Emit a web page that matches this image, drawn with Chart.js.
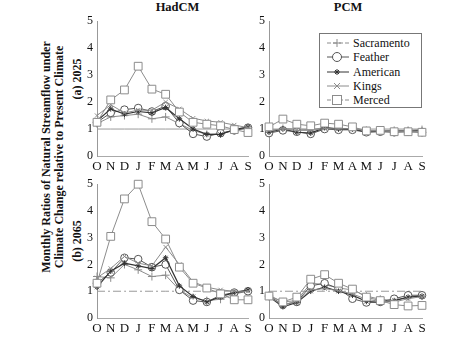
<!DOCTYPE html>
<html>
<head>
<meta charset="utf-8">
<script src="https://cdn.jsdelivr.net/npm/chart.js@4.4.1/dist/chart.umd.min.js"></script>
<style>
  html, body { margin:0; padding:0; background:#fff; }
  body { width:474px; height:351px; position:relative; overflow:hidden; font-family:"Liberation Serif", "Times New Roman", serif; color:#111; }
  canvas { position:absolute; }
  .t { position:absolute; font-weight:bold; white-space:nowrap; line-height:1; }
  .rot { transform-origin:center center; transform:translate(-50%,-50%) rotate(-90deg); }
  #legend { position:absolute; left:319px; top:33px; width:103px; height:75px; border:1px solid #777; box-sizing:border-box; background:#fff; }
  .li { position:absolute; left:6px; height:14px; font-size:12px; line-height:14px; }
  .li svg { position:absolute; left:0; top:0; }
  .li span { position:absolute; left:27px; top:0; }
</style>
</head>
<body>
<div class="t" style="left:177.5px; top:7px; font-size:12.5px; transform:translate(-50%,-50%);">HadCM</div>
<div class="t" style="left:348px; top:7px; font-size:12.5px; transform:translate(-50%,-50%);">PCM</div>
<div class="t rot" style="left:46px; top:157px; font-size:12px;">Monthly Ratios of Natural Streamflow under</div>
<div class="t rot" style="left:59px; top:157px; font-size:12px;">Climate Change relative to Present Climate</div>
<div class="t rot" style="left:77px; top:79px; font-size:12px;">(a) 2025</div>
<div class="t rot" style="left:77px; top:241px; font-size:12px;">(b) 2065</div>

<canvas id="c1"></canvas>
<canvas id="c2"></canvas>
<canvas id="c3"></canvas>
<canvas id="c4"></canvas>

<div id="legend"></div>

<script>
// ---- data ----
const months = ['O','N','D','J','F','M','A','M','J','J','A','S'];
const yTicks = [0, 1, 2, 3, 4, 5];
const seriesNames = ['Sacramento', 'Feather', 'American', 'Kings', 'Merced'];
const referenceLevel = [1,1,1,1,1,1,1,1,1,1,1,1];

const hadcm2025_sacramento = [1.2, 1.45, 1.5, 1.55, 1.38, 1.45, 1.2, 0.95, 0.8, 0.82, 0.95, 1.05];
const hadcm2025_feather    = [1.25, 1.6, 1.72, 1.78, 1.65, 1.85, 1.22, 0.82, 0.72, 0.85, 0.95, 1.05];
const hadcm2025_american   = [1.3, 1.75, 1.55, 1.65, 1.6, 1.8, 1.38, 1.0, 0.8, 0.8, 0.98, 1.08];
const hadcm2025_kings      = [1.5, 1.9, 1.6, 1.7, 1.7, 2.0, 1.75, 1.4, 1.3, 1.25, 1.15, 1.05];
const hadcm2025_merced     = [1.25, 2.08, 2.45, 3.33, 2.48, 2.29, 1.63, 1.25, 1.18, 1.12, 0.98, 0.87];

const pcm2025_sacramento = [0.92, 1.02, 1.0, 0.98, 1.05, 1.02, 1.02, 0.95, 0.95, 0.95, 0.95, 0.98];
const pcm2025_feather    = [0.85, 0.95, 0.9, 0.82, 1.0, 0.97, 0.97, 0.88, 0.9, 0.88, 0.9, 0.88];
const pcm2025_american   = [0.88, 1.0, 0.88, 0.85, 1.05, 1.0, 1.0, 0.9, 0.92, 0.92, 0.92, 0.95];
const pcm2025_kings      = [0.95, 1.0, 0.95, 0.95, 1.02, 1.0, 1.02, 0.93, 0.93, 0.92, 0.93, 0.92];
const pcm2025_merced     = [1.08, 1.37, 1.18, 1.12, 1.22, 1.18, 1.08, 0.93, 0.95, 0.9, 0.9, 0.88];

const hadcm2065_sacramento = [1.55, 1.5, 2.0, 1.8, 1.55, 1.6, 1.05, 0.75, 0.65, 0.7, 0.9, 1.0];
const hadcm2065_feather    = [1.3, 1.7, 2.25, 2.2, 1.9, 2.0, 1.05, 0.65, 0.6, 0.85, 0.95, 1.0];
const hadcm2065_american   = [1.15, 1.75, 2.05, 1.95, 1.85, 2.25, 1.2, 0.8, 0.6, 0.8, 0.95, 1.05];
const hadcm2065_kings      = [1.5, 1.85, 2.3, 2.05, 1.95, 2.65, 2.0, 1.35, 1.15, 1.05, 1.0, 1.0];
const hadcm2065_merced     = [1.3, 3.05, 4.45, 5.0, 3.6, 2.95, 1.9, 1.3, 1.12, 0.9, 0.68, 0.68];

const pcm2065_sacramento = [0.85, 0.6, 0.65, 1.3, 1.25, 1.12, 1.05, 0.82, 0.7, 0.65, 0.78, 0.82];
const pcm2065_feather    = [0.82, 0.5, 0.6, 1.2, 1.3, 1.1, 0.72, 0.58, 0.6, 0.72, 0.85, 0.85];
const pcm2065_american   = [0.8, 0.42, 0.58, 1.0, 1.15, 1.0, 0.85, 0.62, 0.58, 0.65, 0.78, 0.82];
const pcm2065_kings      = [0.78, 0.5, 0.62, 1.05, 1.1, 1.02, 0.9, 0.7, 0.62, 0.6, 0.72, 0.8];
const pcm2065_merced     = [0.82, 0.6, 0.78, 1.45, 1.62, 1.3, 1.08, 0.78, 0.65, 0.5, 0.45, 0.47];

// ---- styles ----
const styles = {
  Sacramento: { color:'#8c8c8c', pointStyle:'cross',    radius:4,   fill:'#8c8c8c', width:1 },
  Feather:    { color:'#555555', pointStyle:'circle',   radius:3.8, fill:'#ffffff', width:1 },
  American:   { color:'#333333', pointStyle:'star',     radius:2.8, fill:'#333333', width:1.2 },
  Kings:      { color:'#8c8c8c', pointStyle:'crossRot', radius:3,   fill:'#8c8c8c', width:1 },
  Merced:     { color:'#8c8c8c', pointStyle:'rect',     radius:5.5, fill:'#ffffff', width:1 }
};

const FONT = 'Liberation Serif';
Chart.defaults.font.family = FONT;
const YW = 27, XH = 20, PT = 11, PR = 8;

function makePanel(id, area, seriesArrays, refDash, yDash) {
  const cv = document.getElementById(id);
  const w = (area.R - area.L) + YW + PR;
  const h = (area.B - area.T) + PT + XH;
  cv.width = Math.round(w); cv.height = Math.round(h);
  cv.style.left = (area.L - YW) + 'px';
  cv.style.top = (area.T - PT) + 'px';
  cv.style.width = Math.round(w) + 'px'; cv.style.height = Math.round(h) + 'px';

  const datasets = [{
    label: 'ref', data: referenceLevel, borderColor:'#9a9a9a', borderWidth:1,
    borderDash: refDash, pointRadius:0, order: 10
  }];
  seriesNames.forEach((n, i) => {
    const s = styles[n];
    datasets.push({
      label: n, data: seriesArrays[i], borderColor: s.color, borderWidth: s.width,
      pointStyle: s.pointStyle, pointRadius: s.radius, pointBorderColor: s.color,
      pointBackgroundColor: s.fill, pointBorderWidth: 1, tension: 0, order: 5 - i, clip: false
    });
  });

  new Chart(cv, {
    type: 'line',
    data: { labels: months, datasets },
    options: {
      responsive: false, animation: false, devicePixelRatio: 1,
      layout: { padding: { top: PT, right: PR, left: 0, bottom: 0 } },
      plugins: { legend: { display:false }, tooltip: { enabled:false } },
      scales: {
        x: {
          type: 'category', offset: false,
          grid: { display: false, drawTicks: false },
          border: { display: true, color:'#aaaaaa', dash:[2,2], width:1 },
          ticks: { color:'#111', font: { family: FONT, size: 13 }, padding: 3, maxRotation: 0, autoSkip: false },
          afterFit: (s) => { s.height = XH; }
        },
        y: {
          min: 0, max: 5,
          afterBuildTicks: (s) => { s.ticks = yTicks.map(v => ({ value: v })); },
          grid: { display: false, drawTicks: false },
          border: { display: true, color:'#999999', dash: yDash, width:1 },
          ticks: { color:'#111', font: { family: FONT, size: 12 }, padding: 4 },
          afterFit: (s) => { s.width = YW; }
        }
      }
    }
  });
}

function drawAll() {
  makePanel('c1', { L:96.7, R:248, T:20.7, B:155.7 },
    [hadcm2025_sacramento, hadcm2025_feather, hadcm2025_american, hadcm2025_kings, hadcm2025_merced], [], []);
  makePanel('c2', { L:269, R:421.7, T:20.7, B:155.7 },
    [pcm2025_sacramento, pcm2025_feather, pcm2025_american, pcm2025_kings, pcm2025_merced], [], []);
  makePanel('c3', { L:96.7, R:248, T:184.3, B:318.3 },
    [hadcm2065_sacramento, hadcm2065_feather, hadcm2065_american, hadcm2065_kings, hadcm2065_merced], [8,3,2,3], [2,2]);
  makePanel('c4', { L:269, R:421.7, T:184.3, B:318.3 },
    [pcm2065_sacramento, pcm2065_feather, pcm2065_american, pcm2065_kings, pcm2065_merced], [8,3,2,3], [2,2]);
}

// ---- legend (HTML) ----
function markerSvg(n) {
  const s = styles[n];
  const dash = (n === 'Sacramento' || n === 'Merced') ? 'stroke-dasharray="4,2"' : '';
  let m = '';
  const cx = 11, cy = 7;
  if (s.pointStyle === 'cross') m = `<line x1="${cx}" y1="${cy-4}" x2="${cx}" y2="${cy+4}" stroke="${s.color}"/><line x1="${cx-4}" y1="${cy}" x2="${cx+4}" y2="${cy}" stroke="${s.color}"/>`;
  if (s.pointStyle === 'circle') m = `<circle cx="${cx}" cy="${cy}" r="4.5" fill="#fff" stroke="${s.color}"/>`;
  if (s.pointStyle === 'star') m = `<line x1="${cx-3}" y1="${cy}" x2="${cx+3}" y2="${cy}" stroke="${s.color}"/><line x1="${cx}" y1="${cy-3}" x2="${cx}" y2="${cy+3}" stroke="${s.color}"/><line x1="${cx-2}" y1="${cy-2}" x2="${cx+2}" y2="${cy+2}" stroke="${s.color}"/><line x1="${cx-2}" y1="${cy+2}" x2="${cx+2}" y2="${cy-2}" stroke="${s.color}"/>`;
  if (s.pointStyle === 'crossRot') m = `<line x1="${cx-3}" y1="${cy-3}" x2="${cx+3}" y2="${cy+3}" stroke="${s.color}"/><line x1="${cx-3}" y1="${cy+3}" x2="${cx+3}" y2="${cy-3}" stroke="${s.color}"/>`;
  if (s.pointStyle === 'rect') m = `<rect x="${cx-4.5}" y="${cy-4.5}" width="9" height="9" fill="#fff" stroke="${s.color}"/>`;
  return `<svg width="24" height="14"><line x1="1" y1="7" x2="23" y2="7" stroke="${s.color}" stroke-width="1" ${dash}/>${m}</svg>`;
}
const leg = document.getElementById('legend');
seriesNames.forEach((n, i) => {
  const d = document.createElement('div');
  d.className = 'li';
  d.style.top = (2 + i * 14.3) + 'px';
  d.innerHTML = markerSvg(n) + `<span>${n}</span>`;
  leg.appendChild(d);
});

if (document.fonts && document.fonts.load) {
  Promise.all([
    document.fonts.load("12px 'Liberation Serif'"),
    document.fonts.load("bold 12px 'Liberation Serif'")
  ]).then(drawAll, drawAll);
} else {
  drawAll();
}
</script>
</body>
</html>
